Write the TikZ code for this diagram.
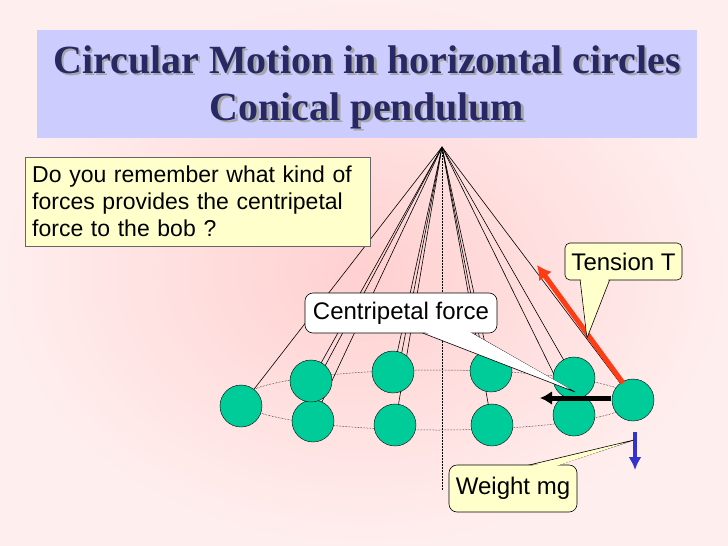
\documentclass[tikz,border=0pt]{standalone}
\usepackage{fontspec}
\setmainfont{Liberation Serif}
\newfontfamily\arialf{Liberation Sans}
\usetikzlibrary{calc,arrows.meta}
\begin{document}
\begin{tikzpicture}[x=1pt,y=-1pt,
  ball/.style={circle,draw=black,fill=ballgreen,minimum size=42pt,inner sep=0pt},
  str/.style={draw=black,line width=0.6pt},
  lbl/.style={font=\arialf\fontsize{24}{28}\selectfont,inner sep=0pt}]
\definecolor{ballgreen}{RGB}{0,204,153}
\definecolor{bgpink}{RGB}{255,208,208}
\definecolor{bgedge}{RGB}{255,238,238}
\definecolor{titlebg}{RGB}{204,204,255}
\definecolor{titletext}{RGB}{40,40,100}
\definecolor{yel}{RGB}{255,255,204}
\definecolor{redarr}{RGB}{255,60,20}
\definecolor{bluearr}{RGB}{51,51,204}
\useasboundingbox (0,0) rectangle (728,546);
\shade[inner color=bgpink,outer color=bgedge] (0,0) rectangle (728,546);
% title
\fill[titlebg] (37,30) rectangle (697,138);
\node[align=center,font=\fontsize{40}{47}\selectfont\bfseries,text=black!35] at (369.5,89.5) {Circular Motion in horizontal circles\\Conical pendulum};
\node (title)[align=center,font=\fontsize{40}{47}\selectfont\bfseries,text=titletext] at (367,87) {Circular Motion in horizontal circles\\Conical pendulum};
% axis and orbit
\coordinate (apex) at (442,147);
\coordinate (axisend) at (442,490);
\draw[densely dotted,line width=0.5pt] (apex) -- (axisend);
\draw[densely dotted,line width=0.5pt] (437,400) ellipse [x radius=196,y radius=30];
% balls positions
\coordinate (p1) at (241,406);
\coordinate (p2) at (311,381);
\coordinate (p3) at (313,421);
\coordinate (p4) at (393,372);
\coordinate (p5) at (395,425);
\coordinate (p6) at (491,371);
\coordinate (p7) at (492,425);
\coordinate (p8) at (574,378);
\coordinate (p9) at (574,415);
\coordinate (p10) at (633,400);
\foreach \i in {1,...,10} \draw[str] (apex) -- (p\i);
\draw[str] (apex) -- ($(p2)+(6,0)$);
\draw[str] (apex) -- ($(p4)+(5,0)$);
\draw[str] (apex) -- ($(p6)+(-5,0)$);
\foreach \i in {3,5,7,9,1,2,4,6,8,10} \node[ball] (b\i) at (p\i) {};
% question box
\node (q)[lbl,font=\arialf\fontsize{23}{27}\selectfont,draw=black!60,fill=yel,align=left,anchor=north west,inner xsep=7pt,inner ysep=9pt,text width=331pt] at (25,157) {Do you remember what kind of\\forces provides the centripetal\\force to the bob ?};
% arrows
\coordinate (tT) at (537,265);
\coordinate (tC) at (540,398);
\coordinate (tW) at (635,470);
\draw[redarr,line width=5pt,-{Latex[length=14pt,width=16pt]}] ($(b10.center)+(-10,-17)$) -- (tT);
\draw[black,line width=5pt,-{Latex[length=12pt,width=14pt]}] ($(b10.center)+(-22,-2)$) -- (tC);
\draw[bluearr,line width=3.5pt,-{Latex[length=13pt,width=13pt]}] ($(b10.center)+(2,32)$) -- (tW);
% callouts
\fill[yel,draw=black,line width=0.6pt] (580,279) -- (587,338) -- (610,279) -- cycle;
\node (ten)[lbl,draw=black,line width=0.6pt,fill=yel,rounded corners=5pt,minimum width=117pt,minimum height=37pt] at (623.5,261.5) {Tension T};
\fill[yel] (581,278) -- (587,334) -- (609,278) -- cycle;
\fill[white,draw=black,line width=0.6pt] (420,332) -- (575,392) -- (470,332) -- cycle;
\node (cen)[lbl,draw=black,line width=0.6pt,fill=white,rounded corners=8pt,minimum width=192pt,minimum height=40pt] at (401,313) {Centripetal force};
\fill[white] (422,331) -- (570,389) -- (468,331) -- cycle;
\fill[yel,draw=black,line width=0.6pt] (525,466) -- (634,440) -- (555,466) -- cycle;
\node (wt)[lbl,draw=black,line width=0.6pt,fill=yel,rounded corners=8pt,minimum width=128pt,minimum height=47pt] at (513,488.5) {Weight mg};
\fill[yel] (527,467) -- (628,442) -- (553,467) -- cycle;
\end{tikzpicture}
\end{document}
